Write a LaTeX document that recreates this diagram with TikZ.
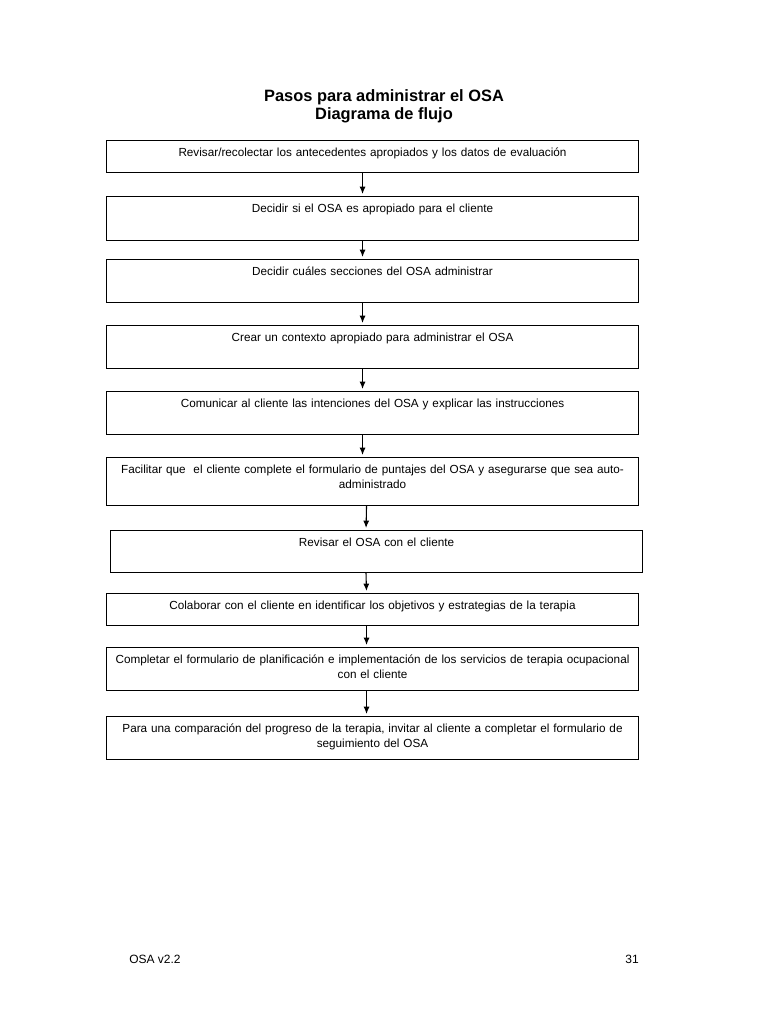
\documentclass[tikz,border=0pt]{standalone}
\usepackage{fontspec}
\setmainfont{Liberation Sans}
\usetikzlibrary{arrows.meta}

\begin{document}
\begin{tikzpicture}[x=0.75pt, y=-0.75pt, shorten >=1.5pt,
		title_style/.style={align=center,inner sep=0pt,font=\fontsize{12.3pt}{13.5pt}\selectfont\bfseries},
		box_style/.style={draw=black,line width=0.8pt,anchor=north west,text width=399pt,align=center,inner xsep=0pt,inner ysep=0pt,text height=12pt,text depth=#1,font=\fontsize{8.8pt}{10.9pt}\selectfont},
		foot_style/.style={inner sep=0pt,font=\fontsize{9pt}{10.9pt}\selectfont},
		edge_style/.style={draw=black,line width=0.8pt,-{Latex[length=5.5pt,width=4.5pt]}}]

		\useasboundingbox (0,0) rectangle (768,1024);

		\node[title_style] (title) at (384,106) {Pasos para administrar el OSA\\Diagrama de flujo};

		\node[box_style=12pt] (s1) at (106,140) {Revisar/recolectar los antecedentes apropiados y los datos de evaluación};
		\node[box_style=21pt] (s2) at (106,196) {Decidir si el OSA es apropiado para el cliente};
		\node[box_style=20.25pt] (s3) at (106,259) {Decidir cuáles secciones del OSA administrar};
		\node[box_style=20.25pt] (s4) at (106,325) {Crear un contexto apropiado para administrar el OSA};
		\node[box_style=20.25pt] (s5) at (106,391) {Comunicar al cliente las intenciones del OSA y explicar las instrucciones};
		\node[box_style=24pt] (s6) at (106,457) {Facilitar que~ el cliente complete el formulario de puntajes del OSA y asegurarse que sea auto-\\administrado};
		\node[box_style=19.5pt] (s7) at (110,530) {Revisar el OSA con el cliente};
		\node[box_style=12pt] (s8) at (106,593) {Colaborar con el cliente en identificar los objetivos y estrategias de la terapia};
		\node[box_style=20.25pt] (s9) at (106,647) {Completar el formulario de planificación e implementación de los servicios de terapia ocupacional\\con el cliente};
		\node[box_style=20.25pt] (s10) at (106,716) {Para una comparación del progreso de la terapia, invitar al cliente a completar el formulario de\\seguimiento del OSA};

		\node[foot_style,anchor=base west] (f1) at (129,963) {OSA v2.2};
		\node[foot_style,anchor=base east] (f2) at (639,963) {31};

		\draw[edge_style] ([xshift=-7.5pt]s1.south) -- ([xshift=-7.5pt]s2.north);
		\draw[edge_style] ([xshift=-7.5pt]s2.south) -- ([xshift=-7.5pt]s3.north);
		\draw[edge_style] ([xshift=-7.5pt]s3.south) -- ([xshift=-7.5pt]s4.north);
		\draw[edge_style] ([xshift=-7.5pt]s4.south) -- ([xshift=-7.5pt]s5.north);
		\draw[edge_style] ([xshift=-7.5pt]s5.south) -- ([xshift=-7.5pt]s6.north);
		\draw[edge_style] ([xshift=-4.5pt]s6.south) -- ([xshift=-7.9pt]s7.north);
		\draw[edge_style] ([xshift=-7.9pt]s7.south) -- ([xshift=-4.5pt]s8.north);
		\draw[edge_style] ([xshift=-4.5pt]s8.south) -- ([xshift=-4.5pt]s9.north);
		\draw[edge_style] ([xshift=-4.5pt]s9.south) -- ([xshift=-4.5pt]s10.north);

\end{tikzpicture}
\end{document}
